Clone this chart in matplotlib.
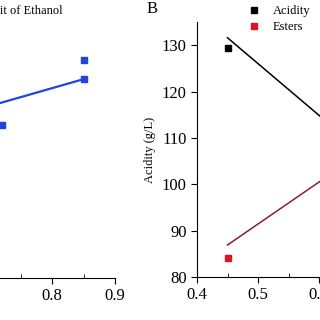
import matplotlib
matplotlib.use("Agg")
import matplotlib.pyplot as plt
from matplotlib.ticker import MultipleLocator, FixedLocator
from matplotlib.lines import Line2D

plt.rcParams['font.family'] = ['Liberation Serif', 'DejaVu Serif']

# panel A (mostly cropped): ethanol points and fit
eth_x = [0.72, 0.85, 0.85]
eth_y = [11.59, 13.11, 12.66]
eth_fit_x = [0.45, 0.85]
eth_fit_y = [10.97, 12.66]

# panel B: acidity and esters
ph_x = [0.45]
acid_y = [129.4]
ester_y = [84.1]
acid_fit_x = [0.45, 0.85]
acid_fit_y = [131.6, 87.0]
ester_fit_x = [0.45, 0.85]
ester_fit_y = [86.9, 123.1]

a_xticks = [0.8, 0.9]
a_minor = [0.75, 0.85]
b_xticks = [0.4, 0.5, 0.6, 0.7, 0.8, 0.9]
b_yticks = [80, 90, 100, 110, 120, 130]

blue = '#2342e0'
red = '#e0141e'
dark_red = '#8e1a3c'

fig = plt.figure(figsize=(3.2, 3.2), dpi=100)

def style(ax):
    for s in ['top', 'right']:
        ax.spines[s].set_visible(False)
    ax.set_xlim(0.4, 0.9)
    ax.tick_params(which='major', direction='out', length=4, labelsize=12)
    ax.tick_params(which='minor', axis='x', direction='in', length=3)

# left panel, shifted off canvas
axA = fig.add_axes([-200 / 320, 42 / 320, 315 / 320, 256 / 320])
style(axA)
axA.set_xticks(a_xticks)
axA.xaxis.set_minor_locator(FixedLocator(a_minor))
axA.set_yticks([])
axA.set_ylim(8, 14)
axA.plot(eth_fit_x, eth_fit_y, color=blue, lw=1.6)
axA.plot(eth_x, eth_y, 's', color=blue, ms=5, ls='none')
fig.text(-7 / 320, 1 - 11 / 320, 'Fit of Ethanol', fontsize=9, va='center', ha='left')

# right panel
axB = fig.add_axes([197 / 320, 43 / 320, 305 / 320, 255 / 320])
style(axB)
axB.set_xticks(b_xticks)
axB.xaxis.set_minor_locator(MultipleLocator(0.05))
axB.set_ylim(80, 135)
axB.set_yticks(b_yticks)
axB.plot(acid_fit_x, acid_fit_y, color='black', lw=1.1)
axB.plot(ester_fit_x, ester_fit_y, color=dark_red, lw=1.1)
axB.plot(ph_x, acid_y, 's', color='black', ms=5)
axB.plot(ph_x, ester_y, 's', color=red, ms=5)
axB.set_ylabel('Acidity (g/L)', fontsize=9, labelpad=4)

handles = [Line2D([], [], marker='s', color='black', ls='none', ms=5),
           Line2D([], [], marker='s', color=red, ls='none', ms=5)]
fig.legend(handles, ['Acidity', 'Esters'], loc='upper left',
           bbox_to_anchor=(233 / 320, 1 + 6 / 320), frameon=False, fontsize=9,
           handletextpad=0.8, labelspacing=0.3, handlelength=1.5)

fig.text(147 / 320, 1 - 9 / 320, 'B', fontsize=12, va='center', ha='left')

fig.savefig('out.png', dpi=100)
